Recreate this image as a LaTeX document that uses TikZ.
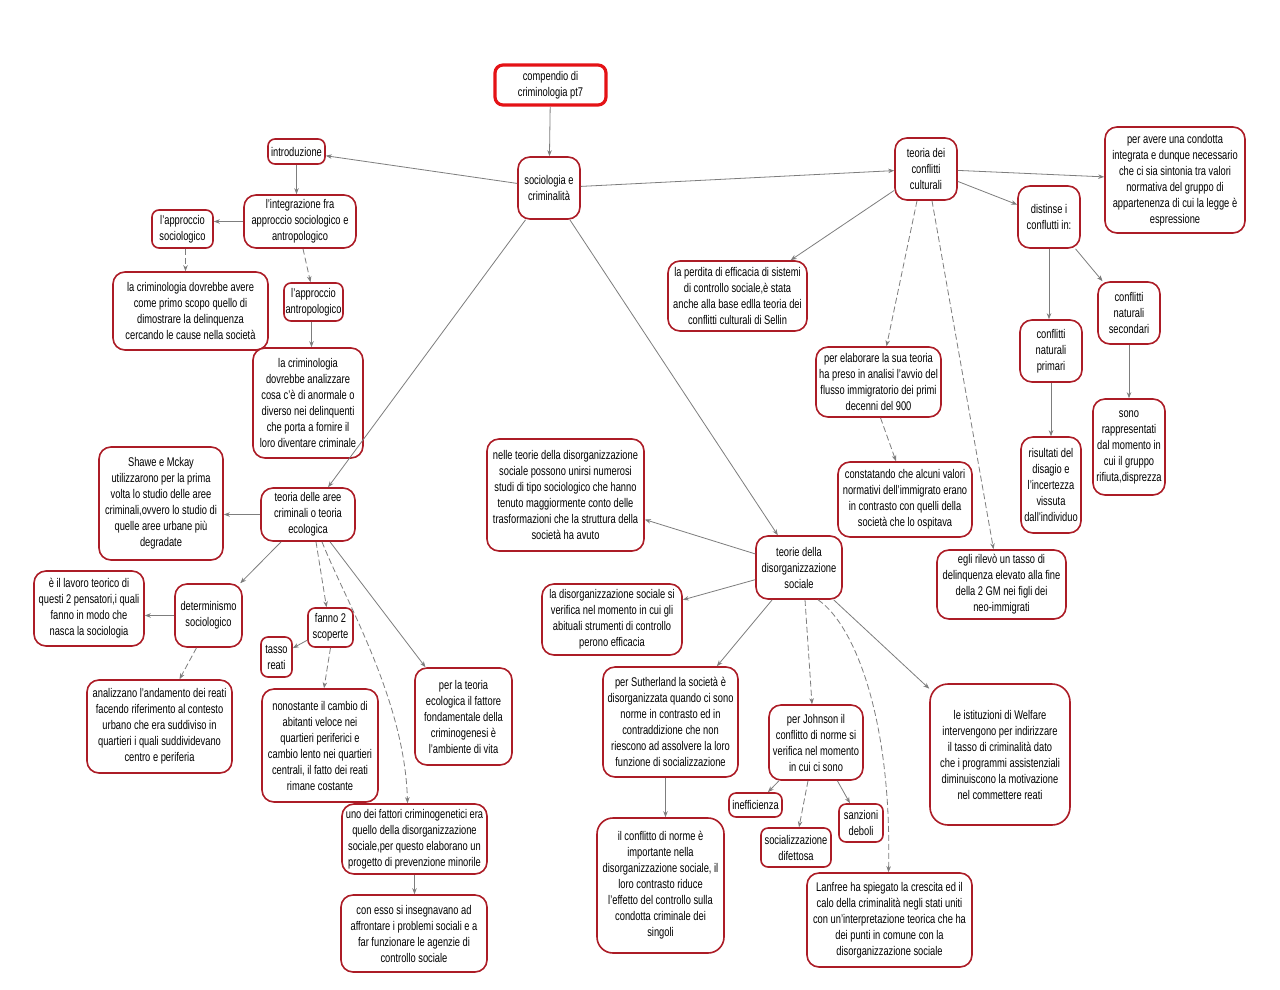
\documentclass[tikz,border=0pt]{standalone}
\usepackage{fontspec}
\setmainfont{Liberation Sans}[FakeStretch=0.74]
\usetikzlibrary{arrows.meta}
\definecolor{boxred}{RGB}{172,28,38}
\definecolor{rootred}{RGB}{228,18,22}
\definecolor{linegray}{RGB}{125,125,125}
\newcommand{\mynodefont}{\fontsize{12.6}{16}\selectfont}
\begin{document}
\begin{tikzpicture}[x=1pt,y=-1pt,
  box/.style={draw=boxred, line width=1.6pt, rounded corners=12pt, fill=white, align=center, inner sep=1pt, font=\mynodefont},
  sbox/.style={box, rounded corners=7pt},
  rootbox/.style={box, draw=rootred, line width=3.2pt, rounded corners=8pt},
  sz/.style 2 args={minimum width=#1pt, minimum height=#2pt},
  conn/.style={draw=linegray, line width=0.8pt, -{Stealth[length=6pt,width=4.5pt]}},
  dconn/.style={conn, dash pattern=on 6pt off 3pt}]
\useasboundingbox[fill=white] (0,0) rectangle (1280,989);

% nodes
\node[rootbox, sz={111}{40}] (root) at (550.5,85) {compendio di\\criminologia pt7};
\node[box, sz={62}{62}] (soc) at (549,188) {sociologia e\\criminalità};
\node[sbox, sz={57}{25}] (intro) at (296.5,151.5) {introduzione};
\node[box, sz={112}{53}] (integr) at (300,221.5) {l'integrazione fra\\approccio sociologico e\\antropologico};
\node[sbox, sz={61}{38}] (apsoc) at (182.5,229) {l'approccio\\sociologico};
\node[box, sz={155}{78}] (crim1) at (190.5,311) {la criminologia dovrebbe avere\\come primo scopo quello di\\dimostrare la delinquenza\\cercando le cause nella società};
\node[sbox, sz={59}{38}] (apantr) at (313.5,302) {l'approccio\\antropologico};
\node[box, sz={110}{110}] (crim2) at (308,403) {la criminologia\\dovrebbe analizzare\\cosa c'è di anormale o\\diverso nei delinquenti\\che porta a fornire il\\loro diventare criminale};
\node[box, sz={62}{62}] (tca) at (926,169) {teoria dei\\conflitti\\culturali};
\node[box, sz={140}{106}] (peravere) at (1175,180) {per avere una condotta\\integrata e dunque necessario\\che ci sia sintonia tra valori\\normativa del gruppo di\\appartenenza di cui la legge è\\espressione};
\node[box, sz={62}{62}] (distinse) at (1049,217) {distinse i\\conflutti in:};
\node[box, sz={139}{70}] (perdita) at (737.5,296) {la perdita di efficacia di sistemi\\di controllo sociale,è stata\\anche alla base edlla teoria dei\\conflitti culturali di Sellin};
\node[box, sz={62}{62}] (cns) at (1129,313) {conflitti\\naturali\\secondari};
\node[box, sz={62}{62}] (cnp) at (1051,351) {conflitti\\naturali\\primari};
\node[box, sz={125}{70}] (perelab) at (878.5,382) {per elaborare la sua teoria\\ha preso in analisi l'avvio del\\flusso immigratorio dei primi\\decenni del 900};
\node[box, sz={72}{96}] (sono) at (1129,447) {sono\\rappresentati\\dal momento in\\cui il gruppo\\rifiuta,disprezza};
\node[box, sz={60}{96}] (risultati) at (1051,485) {risultati del\\disagio e\\l'incertezza\\vissuta\\dall'individuo};
\node[box, sz={134}{75}] (constatando) at (905,499.5) {constatando che alcuni valori\\normativi dell'immigrato erano\\in contrasto con quelli della\\società che lo ospitava};
\node[box, sz={129}{69}] (egli) at (1001.5,584.5) {egli rilevò un tasso di\\delinquenza elevato alla fine\\della 2 GM nei figli dei\\neo-immigrati};
\node[box, sz={94}{53}] (tdae) at (308,514.5) {teoria delle aree\\criminali o teoria\\ecologica};
\node[box, sz={124}{113}] (shawe) at (161,503.5) {Shawe e Mckay\\utilizzarono per la prima\\volta lo studio delle aree\\criminali,ovvero lo studio di\\quelle aree urbane più\\degradate};
\node[box, sz={157}{112}] (nelle) at (565.5,495) {nelle teorie della disorganizzazione\\sociale possono unirsi numerosi\\studi di tipo sociologico che hanno\\tenuto maggiormente conto delle\\trasformazioni che la struttura della\\società ha avuto};
\node[box, sz={86}{63}] (tds) at (799,567.5) {teorie della\\disorganizzazione\\sociale};
\node[box, sz={140}{71}] (ladis) at (612,619.5) {la disorganizzazione sociale si\\verifica nel momento in cui gli\\abituali strumenti di controllo\\perono efficacia};
\node[box, sz={110}{75}] (lavoro) at (89,608.5) {è il lavoro teorico di\\questi 2 pensatori,i quali\\fanno in modo che\\nasca la sociologia};
\node[box, sz={67}{63}] (determ) at (208.5,615.5) {determinismo\\sociologico};
\node[sbox, sz={45}{39}] (fanno2) at (330.5,627.5) {fanno 2\\scoperte};
\node[sbox, sz={31}{40}] (tasso) at (276.5,657) {tasso\\reati};
\node[box, sz={145}{93}] (analizzano) at (159.5,726.5) {analizzano l'andamento dei reati\\facendo riferimento al contesto\\urbano che era suddiviso in\\quartieri i quali suddividevano\\centro e periferia};
\node[box, sz={116}{113}] (nonostante) at (320,745.5) {nonostante il cambio di\\abitanti veloce nei\\quartieri periferici e\\cambio lento nei quartieri\\centrali, il fatto dei reati\\rimane costante};
\node[box, sz={97}{97}] (perteoria) at (463.5,716.5) {per la teoria\\ecologica il fattore\\fondamentale della\\criminogenesi è\\l'ambiente di vita};
\node[box, sz={135}{110}] (sutherland) at (670.5,722) {per Sutherland la società è\\disorganizzata quando ci sono\\norme in contrasto ed in\\contraddizione che non\\riescono ad assolvere la loro\\funzione di socializzazione};
\node[box, sz={94}{75}] (johnson) at (816,742.5) {per Johnson il\\conflitto di norme si\\verifica nel momento\\in cui ci sono};
\node[box, sz={140}{141}, rounded corners=18pt] (welfare) at (1000,754.5) {le istituzioni di Welfare\\intervengono per indirizzare\\il tasso di criminalità dato\\che i programmi assistenziali\\diminuiscono la motivazione\\nel commettere reati};
\node[sbox, sz={53}{24}] (ineff) at (755.5,805) {inefficienza};
\node[sbox, sz={44}{38}] (sanzioni) at (861,823) {sanzioni\\deboli};
\node[sbox, sz={70}{39}] (socdif) at (796,847.5) {socializzazione\\difettosa};
\node[box, sz={145}{70}] (uno) at (414.5,839) {uno dei fattori criminogenetici era\\quello della disorganizzazione\\sociale,per questo elaborano un\\progetto di prevenzione minorile};
\node[box, sz={127}{135}, rounded corners=16pt] (conflitto) at (660.5,885.5) {il conflitto di norme è\\importante nella\\disorganizzazione sociale, il\\loro contrasto riduce\\l'effetto del controllo sulla\\condotta criminale dei\\singoli};
\node[box, sz={165}{94}] (lanfree) at (889.5,920) {Lanfree ha spiegato la crescita ed il\\calo della criminalità negli stati uniti\\con un'interpretazione teorica che ha\\dei punti in comune con la\\disorganizzazione sociale};
\node[box, sz={146}{77}] (conesso) at (414,933.5) {con esso si insegnavano ad\\affrontare i problemi sociali e a\\far funzionare le agenzie di\\controllo sociale};

% connectors
\draw[conn] (root) -- (soc);
\draw[conn] (soc) -- (intro);
\draw[conn] (soc) -- (tca);
\draw[conn] (soc) -- (tdae);
\draw[conn] (soc) -- (tds);
\draw[conn] (intro.south) -- (intro.south |- integr.north);
\draw[conn] (integr.west) -- (integr.west -| apsoc.east);
\draw[dconn] ([xshift=3]apsoc.south) -- ([xshift=3]apsoc.south |- crim1.north);
\draw[dconn] ([xshift=3]integr.south) -- ([xshift=-3]apantr.north);
\draw[conn] ([xshift=-2]apantr.south) -- ([xshift=-2]apantr.south |- crim2.north);
\draw[conn] (tca) -- (peravere);
\draw[conn] (tca) -- (distinse);
\draw[conn] (tca) -- (perdita);
\draw[dconn] ([xshift=-9]tca.south) -- ([xshift=8]perelab.north);
\draw[dconn] ([xshift=6]tca.south) -- ([xshift=-8]egli.north);
\draw[conn] (distinse.south) -- (distinse.south |- cnp.north);
\draw[conn] (distinse) -- (cns);
\draw[conn] (cnp) -- (risultati);
\draw[conn] (cns) -- (sono);
\draw[dconn] ([xshift=2]perelab.south) -- ([xshift=-9]constatando.north);
\draw[conn] (tdae.west) -- (tdae.west -| shawe.east);
\draw[conn] (tdae) -- (determ);
\draw[dconn] ([xshift=8]tdae.south) -- ([xshift=-4]fanno2.north);
\draw[dconn] ([xshift=14]tdae.south) .. controls (345,600) and (405,700) .. ([xshift=-7]uno.north);
\draw[conn] ([xshift=22]tdae.south) -- ([xshift=-38]perteoria.north);
\draw[conn] (determ.west) -- (determ.west -| lavoro.east);
\draw[dconn] ([xshift=-12]determ.south) -- ([xshift=20]analizzano.north);
\draw[conn] (fanno2) -- (tasso);
\draw[dconn] (fanno2.south) -- ([xshift=4]nonostante.north);
\draw[conn] (uno.south) -- (uno.south |- conesso.north);
\draw[conn] (tds) -- (nelle);
\draw[conn] (tds) -- (ladis);
\draw[conn] (tds) -- (sutherland);
\draw[dconn] ([xshift=6]tds.south) -- ([xshift=-4]johnson.north);
\draw[dconn] ([xshift=19]tds.south) .. controls (855,625) and (892,720) .. ([xshift=-1]lanfree.north);
\draw[conn] (tds) -- (welfare);
\draw[conn] ([xshift=-5]sutherland.south) -- ([xshift=5]conflitto.north);
\draw[conn] (johnson) -- (ineff);
\draw[dconn] ([xshift=-8]johnson.south) -- ([xshift=3]socdif.north);
\draw[conn] (johnson) -- (sanzioni);
\end{tikzpicture}
\end{document}
